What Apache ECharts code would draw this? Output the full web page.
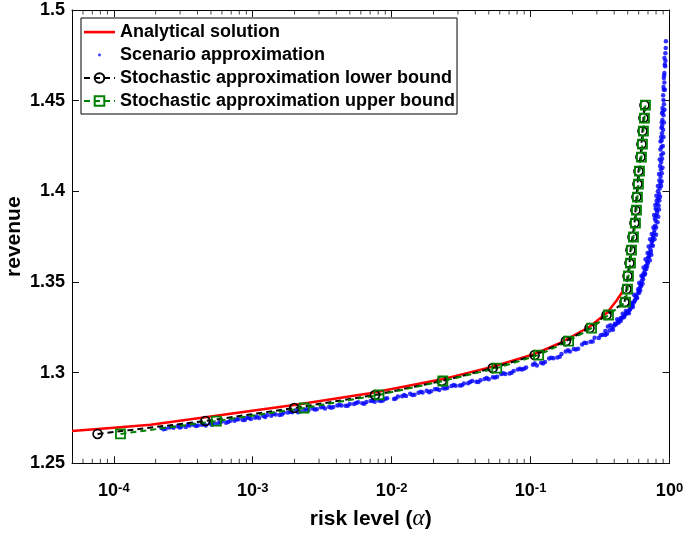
<!DOCTYPE html>
<html>
<head>
<meta charset="utf-8">
<script src="https://cdn.jsdelivr.net/npm/echarts@6/dist/echarts.min.js"></script>
<style>
  html, body { margin: 0; padding: 0; background: #fff; }
  #main { width: 685px; height: 537px; }
</style>
</head>
<body>
<div id="main"></div>
<script>
// analytical solution
var analyticAlpha = [5e-5, 1e-4, 1.84e-4, 4.56e-4, 9.6e-4, 1.99e-3, 6.98e-3, 0.023, 0.0534, 0.107, 0.1618, 0.2658, 0.355, 0.4135, 0.4625];
var analyticRev = [1.2678, 1.2696, 1.2712, 1.2754, 1.2788, 1.2821, 1.2886, 1.2963, 1.3033, 1.3103, 1.3162, 1.3253, 1.3330, 1.3395, 1.3450];

// stochastic approximation bounds (same revenue levels)
var boundRev = [1.2662, 1.2733, 1.2805, 1.2877, 1.2954, 1.3025, 1.3097, 1.3174, 1.3246, 1.3318, 1.3389, 1.3461, 1.3533,
  1.3604, 1.3676, 1.3748, 1.3825, 1.3896, 1.3968, 1.4040, 1.4111, 1.4189, 1.4260, 1.4332, 1.4404, 1.4475];
var lowerAlpha = [7.64e-5, 4.56e-4, 1.99e-3, 7.59e-3, 0.02298, 0.0534, 0.107, 0.1796, 0.2658, 0.3521, 0.4743, 0.4903, 0.4985,
  0.5151, 0.5238, 0.5415, 0.5596, 0.5689, 0.5784, 0.5881, 0.5979, 0.618, 0.6282, 0.6387, 0.6494, 0.6603];
var upperAlpha = [1.117e-4, 5.47e-4, 2.34e-3, 8.11e-3, 0.02336, 0.0571, 0.1143, 0.1878, 0.2747, 0.364, 0.4823, 0.4985, 0.5067,
  0.5238, 0.5326, 0.5504, 0.5689, 0.5784, 0.5881, 0.5979, 0.6079, 0.6282, 0.6387, 0.6494, 0.6603, 0.6714];

// scenario approximation samples
var scenAlpha = [
  2.20e-4, 2.36e-4, 2.51e-4, 2.69e-4, 2.88e-4, 3.07e-4, 3.30e-4, 3.52e-4, 3.76e-4, 4.03e-4, 4.30e-4, 4.59e-4,
  4.92e-4, 5.26e-4, 5.61e-4, 6.01e-4, 6.43e-4, 6.90e-4, 7.38e-4, 7.90e-4, 8.47e-4, 9.08e-4, 9.70e-4,
  1.04e-3, 1.11e-3, 1.19e-3, 1.27e-3, 1.36e-3, 1.46e-3, 1.56e-3, 1.67e-3, 1.79e-3, 1.92e-3, 2.05e-3, 2.20e-3,
  2.35e-3, 2.52e-3, 2.70e-3, 2.89e-3, 3.10e-3, 3.31e-3, 3.55e-3, 3.80e-3, 4.07e-3, 4.36e-3, 4.67e-3, 5.00e-3,
  5.36e-3, 5.74e-3, 6.15e-3, 6.58e-3, 7.05e-3, 7.55e-3, 8.09e-3, 8.66e-3, 9.28e-3,
  0.0104, 0.0111, 0.0119, 0.0127, 0.0136, 0.0146, 0.0156, 0.0167, 0.0179, 0.0192, 0.0205, 0.0220,
  0.0235, 0.0252, 0.0270, 0.0289, 0.0310, 0.0331, 0.0355, 0.0380, 0.0407, 0.0436, 0.0467, 0.0500,
  0.0536, 0.0574, 0.0615, 0.0658, 0.0705, 0.0755, 0.0809, 0.0866, 0.0928,
  0.104, 0.111, 0.119, 0.127, 0.136, 0.146, 0.156, 0.167, 0.179, 0.192, 0.205, 0.220, 0.235, 0.252,
  0.270, 0.289, 0.310, 0.331, 0.355,
  0.370, 0.385, 0.398, 0.412, 0.425, 0.437, 0.452, 0.466, 0.478, 0.490, 0.503, 0.515, 0.528, 0.540,
  0.552, 0.566, 0.578, 0.590, 0.600, 0.612, 0.620, 0.630, 0.639, 0.652, 0.664, 0.676, 0.690, 0.703,
  0.717, 0.728, 0.740, 0.752, 0.765, 0.779, 0.788, 0.795, 0.802, 0.810, 0.818, 0.828, 0.840, 0.850,
  0.860, 0.862, 0.866, 0.870, 0.872, 0.875, 0.878, 0.883, 0.886, 0.889, 0.895, 0.904, 0.910, 0.919,
  0.925, 0.934, 0.942,
  0.392, 0.405, 0.430, 0.446, 0.470, 0.497, 0.520, 0.545, 0.560, 0.585, 0.605, 0.625, 0.645, 0.660,
  0.680, 0.700, 0.712, 0.735, 0.745, 0.760, 0.775, 0.800, 0.784, 0.815, 0.795, 0.835, 0.808, 0.845,
  0.825, 0.870, 0.845, 0.880, 0.855, 0.885, 0.860, 0.895, 0.870, 0.900, 0.880, 0.905, 0.890, 0.912,
  0.900, 0.918, 0.915, 0.930,
  2.28e-4, 2.60e-4, 2.98e-4, 3.41e-4, 3.90e-4, 4.45e-4, 5.09e-4, 5.81e-4, 6.66e-4, 7.63e-4, 8.77e-4, 9.40e-4,
  1.07e-3, 1.23e-3, 1.41e-3, 1.62e-3, 1.86e-3, 2.12e-3, 2.44e-3, 2.80e-3, 3.20e-3, 3.67e-3, 4.21e-3, 4.83e-3,
  5.55e-3, 6.36e-3, 7.30e-3, 8.38e-3, 8.97e-3,
  0.0107, 0.0123, 0.0141, 0.0162, 0.0186, 0.0212, 0.0244, 0.0280, 0.0320, 0.0367, 0.0421, 0.0483,
  0.0555, 0.0636, 0.0730, 0.0838, 0.0897,
  0.107, 0.123, 0.141, 0.162, 0.186, 0.212, 0.244, 0.280, 0.320, 0.345,
  0.345, 0.360, 0.375, 0.420, 0.445, 0.460, 0.485, 0.510, 0.535, 0.520, 0.570, 0.555, 0.595, 0.615,
  0.605, 0.640, 0.628, 0.668, 0.650, 0.690, 0.672, 0.722, 0.695, 0.740, 0.708, 0.760, 0.725, 0.780,
  0.745, 0.800, 0.765, 0.820, 0.775, 0.830, 0.790, 0.840, 0.805, 0.855, 0.825, 0.878, 0.840, 0.890,
  0.850, 0.898, 0.862, 0.905, 0.875, 0.912, 0.885, 0.920, 0.905, 0.925, 0.910, 0.935, 0.920, 0.940
];
var scenRev = [
  1.2695, 1.2690, 1.2697, 1.2696, 1.2705, 1.2701, 1.2700, 1.2709, 1.2713, 1.2708, 1.2713, 1.2709,
  1.2720, 1.2720, 1.2719, 1.2731, 1.2724, 1.2734, 1.2734, 1.2743, 1.2739, 1.2751, 1.2744,
  1.2751, 1.2750, 1.2761, 1.2766, 1.2762, 1.2769, 1.2766, 1.2779, 1.2780, 1.2781, 1.2792, 1.2785,
  1.2794, 1.2794, 1.2802, 1.2798, 1.2809, 1.2802, 1.2811, 1.2811, 1.2819, 1.2819, 1.2818, 1.2827,
  1.2827, 1.2837, 1.2831, 1.2838, 1.2843, 1.2839, 1.2847, 1.2847, 1.2859,
  1.2855, 1.2868, 1.2870, 1.2871, 1.2884, 1.2878, 1.2889, 1.2890, 1.2900, 1.2897, 1.2909, 1.2904,
  1.2914, 1.2916, 1.2926, 1.2928, 1.2929, 1.2940, 1.2942, 1.2954, 1.2950, 1.2958, 1.2965, 1.2963,
  1.2974, 1.2978, 1.2992, 1.2993, 1.2995, 1.3009, 1.3018, 1.3018, 1.3028,
  1.3043, 1.3039, 1.3055, 1.3059, 1.3078, 1.3079, 1.3084, 1.3103, 1.3116, 1.3116, 1.3130, 1.3132, 1.3155, 1.3164,
  1.3170, 1.3192, 1.3191, 1.3209, 1.3215,
  1.3232, 1.3245, 1.3258, 1.3266, 1.3280, 1.3290, 1.3298, 1.3310, 1.3318, 1.3326, 1.3337, 1.3345, 1.3360, 1.3370,
  1.3386, 1.3400, 1.3417, 1.3436, 1.3452, 1.3470, 1.3488, 1.3505, 1.3527, 1.3548, 1.3566, 1.3590, 1.3612, 1.3635,
  1.3659, 1.3680, 1.3702, 1.3728, 1.3755, 1.3786, 1.3810, 1.3838, 1.3865, 1.3895, 1.3933, 1.3960, 1.3985, 1.4015,
  1.4044, 1.4080, 1.4120, 1.4160, 1.4200, 1.4244, 1.4280, 1.4320, 1.4360, 1.4393, 1.4440, 1.4503, 1.4560, 1.4652,
  1.4700, 1.4762, 1.4827,
  1.3236, 1.3270, 1.3275, 1.3302, 1.3305, 1.3332, 1.3350, 1.3362, 1.3395, 1.3412, 1.3440, 1.3478, 1.3515, 1.3540,
  1.3572, 1.3605, 1.3640, 1.3668, 1.3720, 1.3742, 1.3770, 1.3800, 1.3850, 1.3880, 1.3905, 1.3920, 1.3948, 1.3950,
  1.4000, 1.4030, 1.4060, 1.4100, 1.4140, 1.4180, 1.4230, 1.4250, 1.4300, 1.4340, 1.4380, 1.4420, 1.4460, 1.4480,
  1.4530, 1.4600, 1.4640, 1.4690,
  1.2688, 1.2701, 1.2698, 1.2712, 1.2706, 1.2717, 1.2712, 1.2728, 1.2728, 1.2741, 1.2739, 1.2750,
  1.2758, 1.2756, 1.2773, 1.2769, 1.2784, 1.2782, 1.2798, 1.2797, 1.2811, 1.2807, 1.2822, 1.2818,
  1.2832, 1.2829, 1.2845, 1.2844, 1.2856,
  1.2858, 1.2877, 1.2876, 1.2894, 1.2892, 1.2910, 1.2913, 1.2932, 1.2930, 1.2949, 1.2949, 1.2970,
  1.2973, 1.2996, 1.2999, 1.3021, 1.3021,
  1.3050, 1.3050, 1.3082, 1.3088, 1.3123, 1.3128, 1.3165, 1.3172, 1.3206, 1.3207,
  1.3230, 1.3255, 1.3262, 1.3295, 1.3285, 1.3325, 1.3340, 1.3328, 1.3385, 1.3375, 1.3420, 1.3430, 1.3460, 1.3455,
  1.3495, 1.3490, 1.3535, 1.3545, 1.3580, 1.3585, 1.3625, 1.3620, 1.3660, 1.3650, 1.3695, 1.3700, 1.3735, 1.3735,
  1.3765, 1.3760, 1.3800, 1.3830, 1.3870, 1.3860, 1.3925, 1.3900, 1.3975, 1.3970, 1.4030, 1.4055, 1.4095, 1.4130,
  1.4175, 1.4210, 1.4275, 1.4300, 1.4350, 1.4380, 1.4430, 1.4450, 1.4575, 1.4560, 1.4625, 1.4720, 1.4735, 1.4790
];

// minor tick positions of the log axis (decade ticks come from the axis itself)
var minorTicks = [6e-5, 7e-5, 8e-5, 9e-5,
  2e-4, 3e-4, 4e-4, 5e-4, 6e-4, 7e-4, 8e-4, 9e-4,
  2e-3, 3e-3, 4e-3, 5e-3, 6e-3, 7e-3, 8e-3, 9e-3,
  2e-2, 3e-2, 4e-2, 5e-2, 6e-2, 7e-2, 8e-2, 9e-2,
  0.2, 0.3, 0.4, 0.5, 0.6, 0.7, 0.8, 0.9];
var yMin = 1.25, yMax = 1.5;

function zip(xs, ys) {
  return xs.map(function (x, i) { return [x, ys[i]]; });
}

var font = '"Liberation Sans", Arial, sans-serif';
var black = '#000';
var tickColor = '#111';

function xAxisCfg(pos, labels) {
  return {
    type: 'log', min: 5e-5, max: 1, position: pos,
    axisLine: { show: true, lineStyle: { color: black, width: 1 } },
    axisTick: { show: true, inside: true, length: 7, lineStyle: { color: tickColor, width: 1 } },
    minorTick: { show: false },
    axisLabel: labels ? {
      show: true, margin: 19, color: black, showMinLabel: true, hideOverlap: false,
      formatter: function (v) {
        var e = Math.log10(v);
        if (Math.abs(e - Math.round(e)) > 1e-6) return '';
        return '{b|10}{s|' + Math.round(e) + '}';
      },
      rich: {
        b: { fontSize: 18, fontWeight: 'bold', fontFamily: font, color: black, verticalAlign: 'bottom' },
        s: { fontSize: 13, fontWeight: 'bold', fontFamily: font, color: black, verticalAlign: 'top' }
      }
    } : { show: false },
    splitLine: { show: false }
  };
}

function yAxisCfg(pos, labels) {
  return {
    type: 'value', min: yMin, max: yMax, interval: 0.05, position: pos,
    axisLine: { show: true, lineStyle: { color: black } },
    axisTick: { show: true, inside: true, length: 7, lineStyle: { color: tickColor, width: 1 } },
    axisLabel: labels ? { fontSize: 18, fontWeight: 'bold', fontFamily: font, color: black, margin: 7, padding: [6, 0, 0, 0] } : { show: false },
    splitLine: { show: false }
  };
}

// short minor tick marks on the bottom and top edges of the log axis
function minorTickSeries(yv, dy) {
  return {
    type: 'scatter', clip: false,
    data: minorTicks.map(function (v) { return [v, yv]; }),
    symbol: 'rect', symbolSize: [1, 4.5], symbolOffset: [0, dy],
    itemStyle: { color: tickColor }
  };
}

var chart = echarts.init(document.getElementById('main'));
chart.setOption({
  animation: false,
  backgroundColor: '#fff',
  grid: { left: 72, right: 15.5, top: 10, bottom: 73.7, outerBoundsMode: 'none', containLabel: false },
  legend: {
    orient: 'vertical', left: 81, top: 18,
    itemWidth: 31, itemHeight: 12, itemGap: 3,
    padding: [4, 2, 3, 2],
    backgroundColor: '#fff', borderColor: black, borderWidth: 1, borderRadius: 0,
    textStyle: { fontSize: 18, fontWeight: 'bold', fontFamily: font, color: black, lineHeight: 20 },
    data: [
      { name: 'Analytical solution', icon: 'path://M0,0M31,12M0,4.8h31v2.6h-31z' },
      { name: 'Scenario approximation', icon: 'path://M0,0M12,12M7.4,6A1.4,1.4,0,1,1,4.6,6A1.4,1.4,0,1,1,7.4,6Z' },
      'Stochastic approximation lower bound',
      'Stochastic approximation upper bound'
    ]
  },
  xAxis: [
    Object.assign(xAxisCfg('bottom', true), {
      name: '{a|risk level (}{g|α}{a|)}', nameLocation: 'middle', nameGap: 44, nameMoveOverlap: false,
      nameTextStyle: {
        rich: {
          a: { fontSize: 21, fontWeight: 'bold', fontFamily: font, color: black },
          g: { fontSize: 23, fontStyle: 'italic', fontFamily: '"Liberation Serif", serif', color: black }
        }
      }
    }),
    xAxisCfg('top', false)
  ],
  yAxis: [
    Object.assign(yAxisCfg('left', true), {
      name: 'revenue', nameLocation: 'middle', nameGap: 47, nameMoveOverlap: false,
      nameTextStyle: { fontSize: 21, fontWeight: 'bold', fontFamily: font, color: black }
    }),
    yAxisCfg('right', false)
  ],
  series: [
    {
      name: 'Analytical solution', type: 'line', data: zip(analyticAlpha, analyticRev),
      symbol: 'none', smooth: false,
      lineStyle: { color: '#ff0000', width: 2.5 }, itemStyle: { color: '#ff0000' }
    },
    {
      name: 'Scenario approximation', type: 'scatter', data: zip(scenAlpha, scenRev),
      symbol: 'circle', symbolSize: 4.5, itemStyle: { color: '#0000ff' }
    },
    {
      name: 'Stochastic approximation lower bound', type: 'line', data: zip(lowerAlpha, boundRev),
      symbol: 'circle', symbolSize: 9, showAllSymbol: true,
      lineStyle: { color: black, width: 2, type: [6, 4] },
      itemStyle: { color: 'rgba(0,0,0,0)', borderColor: black, borderWidth: 1.6 }
    },
    {
      name: 'Stochastic approximation upper bound', type: 'line', data: zip(upperAlpha, boundRev),
      symbol: 'rect', symbolSize: 9, showAllSymbol: true,
      lineStyle: { color: '#008000', width: 2, type: [6, 4] },
      itemStyle: { color: 'rgba(0,0,0,0)', borderColor: '#008000', borderWidth: 1.8 }
    },
    minorTickSeries(yMin, -2.25),
    minorTickSeries(yMax, 2.25)
  ]
});
</script>
</body>
</html>
